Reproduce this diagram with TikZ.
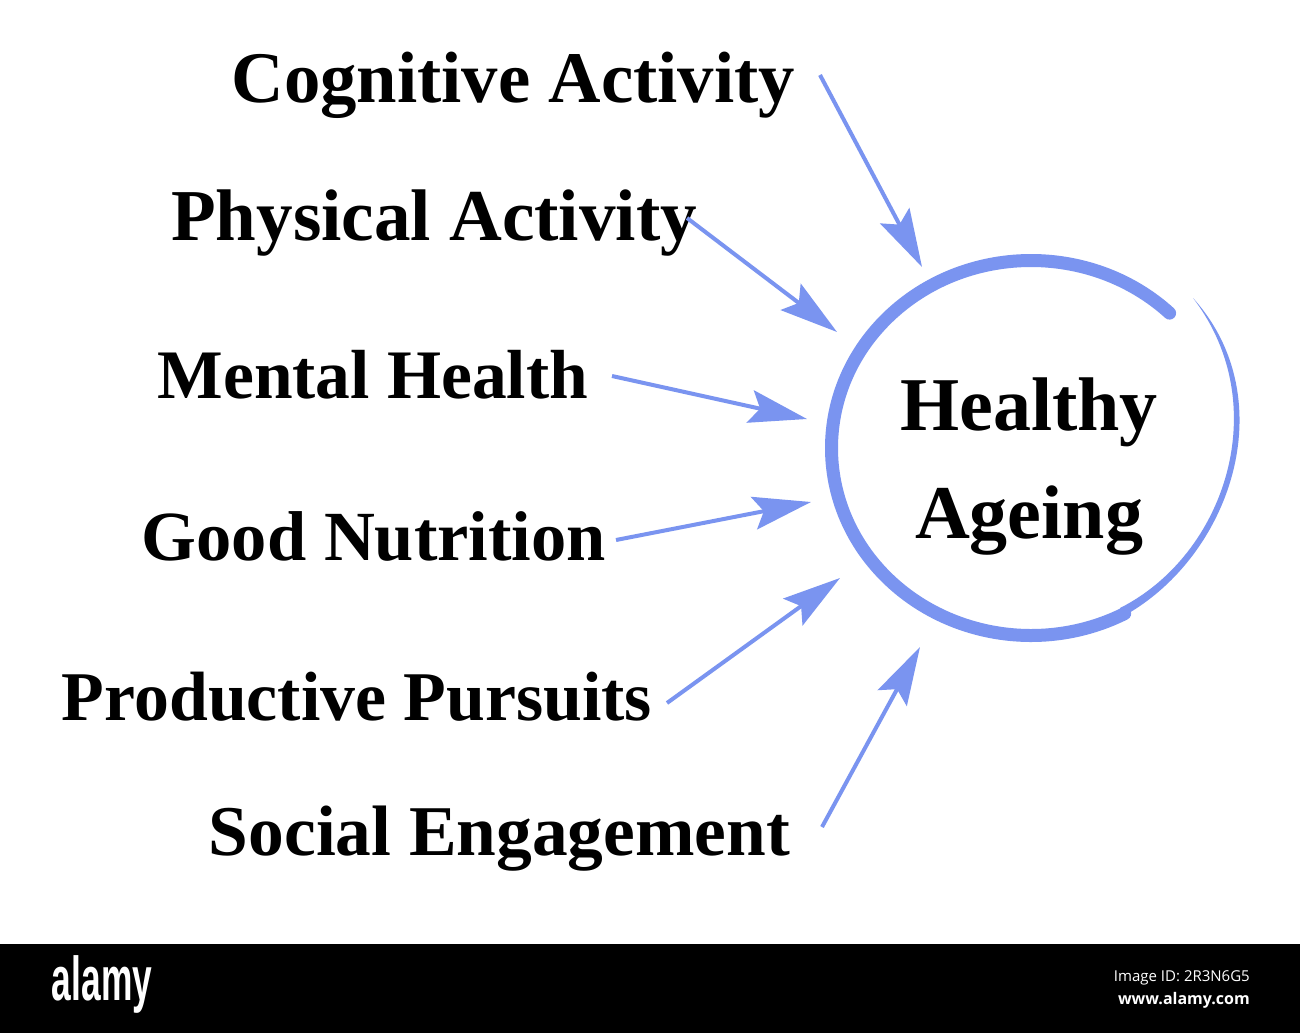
\documentclass[tikz,border=0pt]{standalone}
\usepackage{fontspec}
\setmainfont{Liberation Serif}
\newfontfamily\barfont{Open Sans}
\newfontfamily\logofont[FakeStretch=0.57]{Liberation Sans}
\usetikzlibrary{arrows.meta}
\definecolor{ringblue}{RGB}{122,148,240}

\begin{document}
\begin{tikzpicture}[x=1pt,y=-1pt]
  \tikzset{FactorStyle/.style = {
    anchor        = base east,
    inner sep     = 0pt,
    outer sep     = 0pt,
    text          = black,
    font          = \fontsize{#1}{80}\selectfont\bfseries
    },
    FactorStyle/.default = 71
  }
  \tikzset{GoalStyle/.style = {
    align         = center,
    inner sep     = 0pt,
    outer sep     = 0pt,
    text          = black,
    font          = \fontsize{76}{108}\selectfont\bfseries
    }
  }
  \tikzset{EdgeStyle/.style = {
    draw          = ringblue,
    line width    = 4pt,
    -{Stealth[length=58pt, width=33pt, inset=10pt]}
    }
  }
  \tikzset{RingStyle/.style = {
    draw          = ringblue,
    line width    = 13pt,
    line cap      = round
    }
  }
  \tikzset{BarTextStyle/.style = {
    anchor        = base east,
    inner sep     = 0pt,
    text          = white,
    font          = \barfont\fontsize{15}{16}\selectfont
    }
  }

  \useasboundingbox (0,0) rectangle (1300,1033);
  \fill[white] (0,0) rectangle (1300,944);
  \fill[black] (0,944) rectangle (1300,1033);

	\node[FactorStyle=72.7](F1) at (795, 102) {Cognitive Activity};
	\node[FactorStyle=73.1](F2) at (697, 240) {Physical Activity};
	\node[FactorStyle=69.5](F3) at (588, 398) {Mental Health};
	\node[FactorStyle=70.5](F4) at (606, 560) {Good Nutrition};
	\node[FactorStyle=69.8](F5) at (652, 720) {Productive Pursuits};
	\node[FactorStyle=71.4](F6) at (790, 855) {Social Engagement};
	%
	\node[GoalStyle](G1) at (1029, 467) {Healthy\\Ageing};
	\coordinate (R) at (1031, 448);
	%
	\coordinate (T1) at (922, 267);
	\coordinate (T2) at (837, 332);
	\coordinate (T3) at (807, 419);
	\coordinate (T4) at (811, 502);
	\coordinate (T5) at (840, 578);
	\coordinate (T6) at (920, 647);

	\draw[EdgeStyle]([shift={(25,-27)}]F1.base east) to (T1);
	\draw[EdgeStyle]([shift={(-10,-22)}]F2.base east) to (T2);
	\draw[EdgeStyle]([shift={(24,-22)}]F3.base east) to (T3);
	\draw[EdgeStyle]([shift={(10,-20)}]F4.base east) to (T4);
	\draw[EdgeStyle]([shift={(15,-17)}]F5.base east) to (T5);
	\draw[EdgeStyle]([shift={(32,-28)}]F6.base east) to (T6);
	%
	\draw[RingStyle]([shift={(-46:199.5 and 187.5)}]R) arc[start angle=-46, end angle=-298, x radius=199.5, y radius=187.5];
	\fill[ringblue] (1120, 618) .. controls (1230, 560) and (1285, 400) .. (1193, 298)
	  .. controls (1275, 405) and (1225, 555) .. (1120, 608) -- cycle;

	\node[anchor=base, inner sep=0pt, text=white, font=\logofont\bfseries\fontsize{62}{62}\selectfont](L1) at (102, 1000) {alamy};
	\node[BarTextStyle](L2) at (1250, 981) {Image ID: 2R3N6G5};
	\node[BarTextStyle, font=\barfont\bfseries\fontsize{16}{16}\selectfont](L3) at (1250, 1004) {www.alamy.com};

  \end{tikzpicture}
\end{document}
